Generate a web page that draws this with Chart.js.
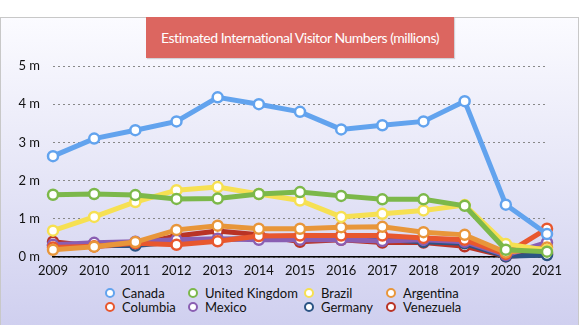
<!DOCTYPE html>
<html>
<head>
<meta charset="utf-8">
<script src="https://cdn.jsdelivr.net/npm/chart.js@4.4.0/dist/chart.umd.min.js"></script>
<style>
  html, body { margin: 0; padding: 0; width: 580px; height: 325px; overflow: hidden; background: #fff; }
  #card {
    position: absolute; left: 0; top: 17px; width: 577px; height: 310px;
    border: 1px solid #c8c8c8; border-bottom: none;
    background: linear-gradient(to bottom, #fbfbff 0%, #e6e6f7 50%, #cfcfef 100%);
  }
  #titulo {
    position: absolute; left: 146px; top: 17px; width: 308px; height: 41px;
    background: #dc6660; color: #fff;
    font: 14px Lato, "Open Sans", sans-serif;
    line-height: 41px; text-align: center; letter-spacing: -0.5px; white-space: nowrap;
    box-shadow: 1px 1px 1px rgba(0,0,0,0.15);
  }
  #grafico { position: absolute; left: 0; top: 0; }
  #legenda { position: absolute; left: 0; top: 285px; width: 580px; height: 30px;
    font: 13px Lato, "Open Sans", sans-serif; color: #111; }
  .item { position: absolute; white-space: nowrap; line-height: 14px; }
  .bolinha { position: absolute; left: -17px; top: 2px; width: 6px; height: 6px;
    border-radius: 50%; background: #fff; border-width: 2.5px; border-style: solid; }
</style>
</head>
<body>
<div id="card"></div>
<div id="titulo">Estimated International Visitor Numbers (millions)</div>
<canvas id="grafico" width="580" height="285"></canvas>
<div id="legenda"></div>

<script>
// anos do eixo x
const anos = ['2009','2010','2011','2012','2013','2014','2015','2016','2017','2018','2019','2020','2021'];

// visitantes (milhões) por país
const canada    = [2.64, 3.10, 3.32, 3.55, 4.18, 4.00, 3.80, 3.34, 3.45, 3.55, 4.08, 1.37, 0.60];
const reinoUnido= [1.63, 1.65, 1.62, 1.52, 1.53, 1.65, 1.70, 1.60, 1.51, 1.51, 1.34, 0.19, 0.14];
const brasil    = [0.69, 1.05, 1.44, 1.75, 1.83, 1.65, 1.48, 1.05, 1.13, 1.22, 1.36, 0.34, 0.18];
const argentina = [0.19, 0.27, 0.39, 0.71, 0.82, 0.74, 0.74, 0.78, 0.79, 0.65, 0.58, 0.12, 0.25];
const colombia  = [0.25, 0.28, 0.36, 0.32, 0.41, 0.55, 0.56, 0.56, 0.56, 0.50, 0.45, 0.08, 0.74];
const mexico    = [0.32, 0.37, 0.40, 0.45, 0.48, 0.45, 0.45, 0.45, 0.42, 0.45, 0.40, 0.05, 0.38];
const alemanha  = [0.30, 0.30, 0.30, 0.40, 0.45, 0.50, 0.50, 0.50, 0.46, 0.40, 0.36, 0.02, 0.05];
const venezuela = [0.40, 0.28, 0.33, 0.55, 0.68, 0.58, 0.40, 0.45, 0.38, 0.38, 0.28, 0.02, 0.08];

const nomes = ['Canada', 'United Kingdom', 'Brazil', 'Argentina', 'Columbia', 'Mexico', 'Germany', 'Venezuela'];
const series = [canada, reinoUnido, brasil, argentina, colombia, mexico, alemanha, venezuela];
const cores = ['#62a3ee', '#7cb84a', '#f6e052', '#e8963a', '#e8572e', '#8a5eb2', '#2b5484', '#b93325'];

// y-ticks
const ticksY = [0, 1, 2, 3, 4, 5];

let datasets = [];
for (let i = 0; i < series.length; i++) {
    datasets.push({
        label: nomes[i],
        data: series[i],
        borderColor: cores[i],
        backgroundColor: cores[i],
        borderWidth: 5,
        tension: 0,
        pointRadius: 5,
        pointBorderWidth: 2.5,
        pointBackgroundColor: '#fff',
        pointBorderColor: cores[i],
        clip: false
    });
}

const fonte = { family: 'Lato, "Open Sans", sans-serif', size: 13 };

new Chart(document.getElementById('grafico'), {
    type: 'line',
    data: { labels: anos, datasets: datasets },
    options: {
        responsive: false,
        animation: false,
        layout: { padding: { top: 66, right: 33, bottom: 3, left: 0 } },
        plugins: {
            legend: { display: false },
            title: { display: false },
            tooltip: { enabled: false }
        },
        scales: {
            x: {
                offset: false,
                grid: { display: false, drawTicks: false },
                border: { display: true, color: '#000', width: 1.5 },
                ticks: { color: '#111', font: fonte, padding: 6, maxRotation: 0, autoSkip: false },
                afterFit: (s) => { s.height = 25; }
            },
            y: {
                min: 0,
                max: 5,
                afterBuildTicks: (s) => { s.ticks = ticksY.map(v => ({ value: v })); },
                grid: { color: '#888', lineWidth: 1, drawTicks: false },
                border: { display: false, dash: [2, 3] },
                ticks: {
                    color: '#111', font: fonte, padding: 13,
                    callback: (v) => v + ' m'
                },
                afterFit: (s) => { s.width = 53; }
            }
        }
    }
});

// legenda em colunas alinhadas
const colX = [122, 205, 321, 403];
const linhaY = [1, 15];
const leg = document.getElementById('legenda');
for (let i = 0; i < nomes.length; i++) {
    const el = document.createElement('div');
    el.className = 'item';
    el.style.left = colX[i % 4] + 'px';
    el.style.top = linhaY[Math.floor(i / 4)] + 'px';
    el.innerHTML = '<span class="bolinha" style="border-color:' + cores[i] + '"></span>' + nomes[i];
    leg.appendChild(el);
}
</script>
</body>
</html>
